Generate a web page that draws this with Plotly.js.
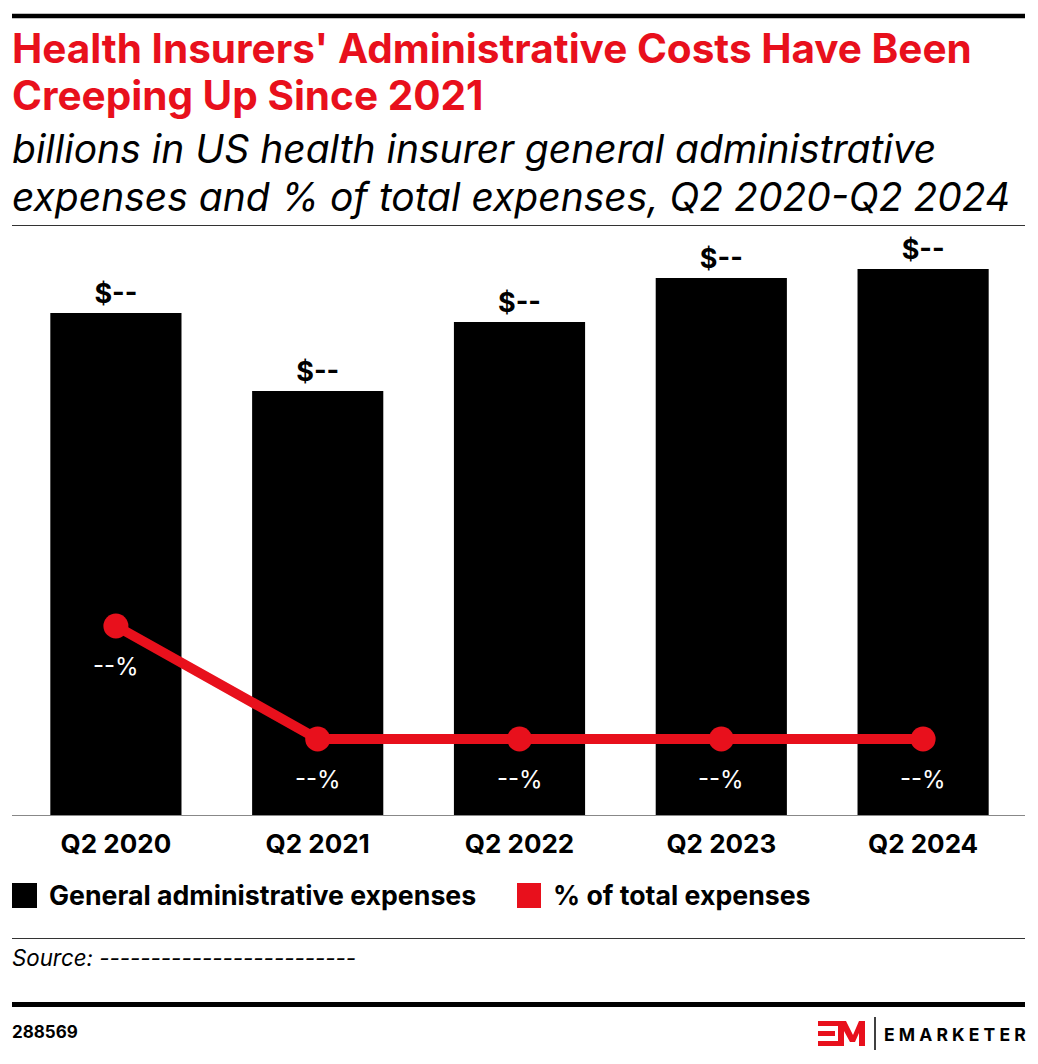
<!DOCTYPE html>
<html><head><meta charset="utf-8">
<script src="https://cdn.plot.ly/plotly-3.0.1.min.js"></script>
<style>html,body{margin:0;padding:0;background:#fff;}#chart{width:1038px;height:1064px;}</style>
</head><body><div id="chart"></div>
<script>
const categories = ["Q2 2020", "Q2 2021", "Q2 2022", "Q2 2023", "Q2 2024"];
const adminExpenses = [50.2, 42.4, 49.3, 53.7, 54.6];
const adminLabels = ["$--", "$--", "$--", "$--", "$--"];
const pctOfTotal = [18.9, 7.6, 7.6, 7.6, 7.6];
const pctLabels = ["--%", "--%", "--%", "--%", "--%"];

const RED = "#e8101c";
const FONT = "Inter, 'Open Sans', sans-serif";
const W = 1038, H = 1064;
const L = 15, R = 14, T = 230, B = 249;
const px = X => (X - L) / (W - L - R);
const py = Y => (H - B - Y) / (H - T - B);

const bars = {
  type: "bar", x: categories, y: adminExpenses, name: "General administrative expenses",
  marker: {color: "#000"}, width: 0.65,
  text: adminLabels, textposition: "outside", cliponaxis: false,
  textfont: {family: FONT, size: 27, color: "#000", weight: 700},
  hoverinfo: "skip", showlegend: false
};
const line = {
  type: "scatter", mode: "lines+markers", x: categories, y: pctOfTotal, yaxis: "y2",
  name: "% of total expenses", line: {color: RED, width: 10},
  marker: {color: RED, size: 25}, hoverinfo: "skip", showlegend: false, cliponaxis: false
};

const annotations = [];
categories.forEach((c, i) => {
  annotations.push({x: c, y: pctOfTotal[i], xref: "x", yref: "y2", text: pctLabels[i],
    showarrow: false, yshift: -40, font: {family: FONT, size: 24, color: "#fff"}});
});
function txt(text, X, Y, size, opts) {
  annotations.push(Object.assign({text, x: px(X), y: py(Y), xref: "paper", yref: "paper",
    xanchor: "left", yanchor: "middle", showarrow: false, align: "left",
    font: Object.assign({family: FONT, size, color: "#000"}, (opts && opts.font) || {})}, opts && opts.extra));
}
txt("<b>Health Insurers' Administrative Costs Have Been</b>", 10, 48, 40.5, {font: {color: RED}});
txt("<b>Creeping Up Since 2021</b>", 10, 96, 40.5, {font: {color: RED}});
txt("<i>billions in US health insurer general administrative</i>", 10, 148, 39);
txt("<i>expenses and % of total expenses, Q2 2020-Q2 2024</i>", 10, 196, 39);
txt("<b>General administrative expenses</b>", 47, 895, 26.7);
txt("<b>% of total expenses</b>", 551, 895, 26.7);
txt("<i>Source: -------------------------</i>", 10, 957, 22.3);
txt("<b>288569</b>", 10, 1032, 17);
txt("<b>E M A R K E T E R</b>", 882, 1034, 17.5);

const rect = (x0, y0, x1, y1, color) => ({type: "rect", xref: "paper", yref: "paper",
  x0: px(x0), x1: px(x1), y0: py(y0), y1: py(y1), fillcolor: color, line: {width: 0}, layer: "above"});
const hline = (Y, x0, x1, w, color) => ({type: "line", xref: "paper", yref: "paper",
  x0: px(x0), x1: px(x1), y0: py(Y), y1: py(Y), line: {color, width: w}});

function pathP(points) {
  return "M " + points.map(p => px(p[0]) + "," + py(p[1])).join(" L ") + " Z";
}
const shapes = [
  hline(16, 12, 1025, 4.5, "#000"),
  hline(225.5, 12, 1025, 1.2, "#333"),
  hline(815.5, 12, 1025, 1.2, "#888"),
  hline(938.5, 12, 1025, 1.2, "#333"),
  hline(1004.5, 12, 1025, 5, "#000"),
  rect(12, 883, 37, 908, "#000"),
  rect(517, 883, 541, 908, RED),
  rect(818, 1021, 838, 1026, RED),
  rect(818, 1031, 835, 1036, RED),
  rect(818, 1041, 838, 1046, RED),
  {type: "path", xref: "paper", yref: "paper", fillcolor: RED, line: {width: 0},
   path: pathP([[838,1021],[846,1021],[853,1035],[859,1021],[865,1021],[865,1046],[859,1046],[859,1033],[855,1042],[850,1042],[844,1031],[844,1046],[838,1046]])},
  {type: "line", xref: "paper", yref: "paper", x0: px(875), x1: px(875), y0: py(1017), y1: py(1050), line: {color: "#000", width: 1.5}}
];

const layout = {
  width: W, height: H, margin: {l: L, r: R, t: T, b: B},
  paper_bgcolor: "#fff", plot_bgcolor: "#fff", showlegend: false,
  bargap: 0.35,
  xaxis: {type: "category", tickfont: {family: FONT, size: 26, color: "#000", weight: 700},
    ticks: "", showgrid: false, zeroline: false, showline: false, ticklabelstandoff: 11, fixedrange: true},
  yaxis: {range: [0, 58.5], visible: false, showgrid: false, zeroline: false, fixedrange: true},
  yaxis2: {range: [0, 58.5], overlaying: "y", visible: false, showgrid: false, zeroline: false, fixedrange: true},
  annotations, shapes
};
Plotly.newPlot("chart", [bars, line], layout, {displayModeBar: false, staticPlot: true});
</script></body></html>
